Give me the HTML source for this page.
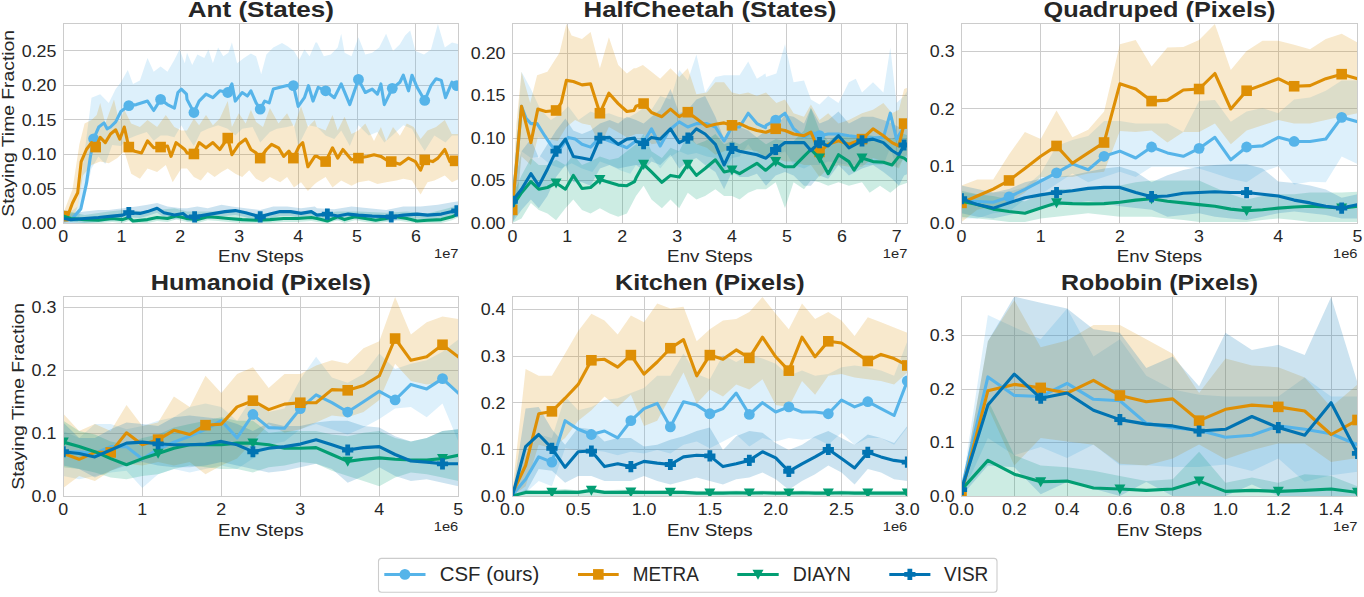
<!DOCTYPE html><html><head><meta charset="utf-8"><style>html,body{margin:0;padding:0;background:#fff;}svg{display:block;font-family:"Liberation Sans",sans-serif;}</style></head><body>
<svg width="1364" height="597" viewBox="0 0 1364 597">
<rect width="1364" height="597" fill="#fff"/>
<line x1="63.50" y1="23.5" x2="63.50" y2="223.5" stroke="#cccccc" stroke-width="1"/>
<line x1="121.50" y1="23.5" x2="121.50" y2="223.5" stroke="#cccccc" stroke-width="1"/>
<line x1="180.50" y1="23.5" x2="180.50" y2="223.5" stroke="#cccccc" stroke-width="1"/>
<line x1="239.50" y1="23.5" x2="239.50" y2="223.5" stroke="#cccccc" stroke-width="1"/>
<line x1="298.50" y1="23.5" x2="298.50" y2="223.5" stroke="#cccccc" stroke-width="1"/>
<line x1="357.50" y1="23.5" x2="357.50" y2="223.5" stroke="#cccccc" stroke-width="1"/>
<line x1="415.50" y1="23.5" x2="415.50" y2="223.5" stroke="#cccccc" stroke-width="1"/>
<line x1="63.5" y1="223.50" x2="458.5" y2="223.50" stroke="#cccccc" stroke-width="1"/>
<line x1="63.5" y1="188.50" x2="458.5" y2="188.50" stroke="#cccccc" stroke-width="1"/>
<line x1="63.5" y1="154.50" x2="458.5" y2="154.50" stroke="#cccccc" stroke-width="1"/>
<line x1="63.5" y1="119.50" x2="458.5" y2="119.50" stroke="#cccccc" stroke-width="1"/>
<line x1="63.5" y1="85.50" x2="458.5" y2="85.50" stroke="#cccccc" stroke-width="1"/>
<line x1="63.5" y1="50.50" x2="458.5" y2="50.50" stroke="#cccccc" stroke-width="1"/>
<clipPath id="clip0"><rect x="63.3" y="23.4" width="395.20" height="199.80"/></clipPath>
<g clip-path="url(#clip0)">
<path d="M63.2,216.8L77.7,206.5L91.5,97.7L100.2,94.2L108.8,102.9L115.7,89.1L120.9,82.2L127.8,70.1L133.0,83.9L139.9,80.4L147.5,58.0L153.7,71.8L160.6,66.6L167.5,71.8L174.4,59.7L179.6,49.4L184.8,63.2L187.0,52.8L192.2,64.9L197.4,54.5L204.3,58.0L208.4,49.4L212.9,63.2L218.1,47.6L223.3,56.3L228.4,52.8L231.9,42.4L237.1,63.2L244.0,58.0L250.9,53.5L256.1,56.3L261.2,74.2L266.4,54.5L273.3,47.6L282.0,43.1L287.1,45.9L294.0,51.1L299.2,59.7L304.4,49.4L309.6,56.3L315.5,42.4L317.0,42.4L323.9,56.3L330.8,54.5L337.7,47.6L341.2,33.8L344.6,52.8L351.5,56.3L358.4,37.3L365.3,54.5L372.2,52.8L379.2,47.6L386.1,33.8L393.0,51.1L399.9,44.2L405.1,35.5L410.2,30.4L415.4,51.1L424.0,54.5L431.0,49.4L437.9,24.1L444.8,47.6L452.0,42.4L459.3,44.2L459.3,135.6L452.0,135.6L445.5,142.5L434.4,135.6L424.7,151.1L417.1,139.0L412.0,128.7L403.3,125.2L392.3,135.6L384.3,142.5L377.4,132.1L368.8,135.6L358.4,125.2L349.8,146.0L341.2,130.4L334.3,139.0L325.6,135.6L317.0,127.0L308.5,125.2L298.2,146.0L294.0,125.2L287.1,127.0L276.8,128.7L269.9,132.1L260.2,142.5L252.6,127.0L242.2,128.7L235.3,135.6L227.7,128.7L218.1,125.2L207.7,128.7L200.8,132.1L193.9,146.0L187.0,135.6L181.3,125.2L174.4,137.3L167.5,135.6L160.6,135.6L153.7,140.8L146.8,132.1L136.4,135.6L127.8,139.0L120.9,146.0L112.2,145.1L105.3,164.1L98.4,156.4L91.5,168.5L84.6,199.6L77.7,222.0L63.2,223.0Z" fill="#56b4e9" fill-opacity="0.2"/>
<path d="M63.2,213.4L72.5,189.2L79.4,144.3L84.6,123.6L91.5,120.1L96.7,115.0L100.2,102.9L105.3,123.6L114.0,99.4L119.2,121.9L124.3,109.8L131.2,123.6L139.9,127.0L147.5,120.1L157.1,127.0L165.8,115.0L174.4,127.0L181.3,130.5L187.0,130.5L193.9,118.4L199.1,125.3L206.0,115.0L212.9,125.3L219.8,118.4L227.7,101.1L231.9,127.0L238.8,113.2L245.7,123.6L250.9,109.8L256.1,121.9L263.0,127.0L269.9,108.1L278.5,123.6L287.1,113.2L294.0,127.0L301.0,106.3L307.9,127.0L314.8,120.1L317.0,127.0L325.6,130.5L332.5,115.0L337.7,130.5L344.6,116.7L351.5,134.0L358.4,130.5L365.3,123.6L374.0,140.9L380.9,127.0L386.1,140.9L393.0,127.0L399.9,135.7L406.8,123.6L413.7,127.0L420.6,139.1L427.5,130.5L436.1,127.0L444.8,120.1L451.7,134.0L459.3,134.0L459.3,178.8L452.0,182.3L444.8,175.4L434.4,180.6L427.5,182.3L420.6,194.4L412.0,180.6L403.3,178.8L396.4,180.6L386.1,182.3L377.4,184.0L368.8,180.6L358.4,182.3L351.5,185.7L341.2,180.6L332.5,187.5L325.6,177.1L317.0,182.3L314.8,184.0L307.9,190.9L301.0,182.3L294.0,187.5L287.1,177.1L280.2,182.3L269.9,177.1L263.0,182.3L256.1,178.8L249.2,170.2L242.2,177.1L235.3,173.7L227.7,168.5L221.5,171.9L214.6,177.1L207.7,171.9L200.8,180.6L193.9,177.1L187.0,168.5L181.3,168.5L172.7,182.3L165.8,165.0L157.1,171.9L147.5,168.5L139.9,178.8L131.2,173.7L124.3,151.2L117.4,158.1L108.8,163.3L100.2,161.6L91.5,165.0L82.9,175.4L77.7,206.5L72.5,220.3L63.2,223.0Z" fill="#de8f05" fill-opacity="0.2"/>
<path d="M63.2,209.9L84.6,215.1L108.8,211.6L122.6,209.9L146.8,211.6L157.1,209.9L174.4,208.2L187.0,211.6L207.7,211.6L228.4,211.6L249.2,213.4L269.9,213.4L290.6,212.7L311.3,210.6L317.0,213.4L337.7,211.6L358.4,211.6L386.1,212.7L406.8,211.6L427.5,213.4L448.2,208.2L459.3,204.7L459.3,216.9L452.0,220.3L441.3,223.1L427.5,223.2L417.1,223.2L406.8,222.0L396.4,220.3L386.1,222.0L375.7,223.2L365.3,222.0L355.0,220.3L344.6,223.1L337.7,220.3L327.4,223.2L317.0,222.0L311.3,221.0L297.5,222.0L283.7,222.0L269.9,223.1L256.1,223.2L242.2,223.1L228.4,222.0L218.1,221.0L207.7,220.3L197.4,223.1L187.0,222.0L176.1,219.6L167.5,222.0L157.1,221.0L147.5,223.1L133.0,223.2L128.8,221.0L122.6,223.1L112.2,222.0L98.4,223.2L84.6,223.1L70.8,222.0L63.2,219.6Z" fill="#029e73" fill-opacity="0.2"/>
<path d="M63.2,209.9L70.8,213.4L84.6,211.6L98.4,209.9L108.8,209.9L122.6,208.2L136.4,206.5L147.5,204.7L157.1,203.0L167.5,206.5L181.3,208.2L187.0,208.2L197.4,206.5L207.7,208.2L221.5,204.7L231.9,206.5L245.7,208.2L260.2,209.9L273.3,206.5L287.1,206.5L301.0,208.2L314.8,206.5L317.0,208.2L334.3,209.2L351.5,206.5L368.8,208.2L386.1,209.9L403.3,206.5L420.6,206.5L437.9,204.7L452.0,202.3L459.3,201.3L459.3,216.1L456.8,215.5L452.0,216.1L441.3,218.6L427.5,219.6L417.1,218.6L403.3,219.6L391.2,221.3L372.2,220.6L358.4,219.6L348.1,218.6L337.7,220.6L327.4,218.6L317.0,219.6L311.3,216.1L301.0,217.9L290.6,216.1L280.2,216.1L269.9,218.6L260.2,221.3L245.7,217.2L235.3,215.1L225.0,216.1L214.6,217.9L204.3,219.6L194.6,221.3L187.0,221.3L183.0,217.9L174.4,219.6L164.0,217.2L157.1,212.7L147.5,216.1L139.9,217.9L128.8,217.2L122.6,219.6L112.2,220.6L98.4,222.0L84.6,223.0L70.8,223.2L63.2,223.0Z" fill="#0173b2" fill-opacity="0.2"/>
<path d="M63.2,220.3L72.5,218.2L80.8,208.9L86.4,183.7L90.1,158.5L93.6,138.8L98.8,127.0L104.0,122.9L107.1,128.8L110.5,127.0L115.7,121.9L120.9,111.5L128.8,105.6L136.4,104.6L147.5,101.1L153.7,110.5L160.6,99.4L167.5,104.6L174.4,108.1L177.9,92.5L181.3,89.1L186.5,94.2L187.0,99.4L193.9,112.5L199.1,101.1L206.0,94.2L212.9,97.7L219.8,90.8L227.7,92.5L231.9,83.9L235.3,101.1L242.2,92.5L247.4,96.0L250.9,90.8L256.1,102.9L260.2,109.1L264.7,101.1L269.2,102.9L273.3,89.1L280.2,87.3L287.1,85.6L293.4,85.6L298.2,106.3L304.4,97.7L308.5,85.6L313.0,101.1L318.2,87.3L325.6,90.8L334.3,97.7L341.2,83.9L349.8,104.6L358.4,79.4L365.3,92.5L372.2,89.1L377.4,94.2L380.9,83.9L384.3,104.6L392.3,88.4L399.9,82.2L403.3,75.2L408.5,90.8L412.0,75.2L417.1,87.3L424.7,100.5L431.0,85.6L436.1,78.7L441.3,80.4L445.5,97.7L452.0,82.2L456.8,85.6L459.3,87.3" fill="none" stroke="#56b4e9" stroke-width="3.1" stroke-linejoin="round" stroke-linecap="square"/>
<circle cx="93.60" cy="138.78" r="5.4" fill="#56b4e9"/>
<circle cx="128.82" cy="105.64" r="5.4" fill="#56b4e9"/>
<circle cx="160.59" cy="99.42" r="5.4" fill="#56b4e9"/>
<circle cx="193.91" cy="112.54" r="5.4" fill="#56b4e9"/>
<circle cx="227.75" cy="92.51" r="5.4" fill="#56b4e9"/>
<circle cx="260.20" cy="109.09" r="5.4" fill="#56b4e9"/>
<circle cx="293.35" cy="85.61" r="5.4" fill="#56b4e9"/>
<circle cx="325.63" cy="90.79" r="5.4" fill="#56b4e9"/>
<circle cx="358.44" cy="79.39" r="5.4" fill="#56b4e9"/>
<circle cx="392.28" cy="88.37" r="5.4" fill="#56b4e9"/>
<circle cx="424.73" cy="100.46" r="5.4" fill="#56b4e9"/>
<circle cx="456.85" cy="85.61" r="5.4" fill="#56b4e9"/>
<path d="M63.2,216.1L67.4,216.8L72.5,203.0L77.7,192.7L81.2,161.6L86.4,149.5L91.5,142.6L95.7,147.1L100.2,137.4L105.3,142.6L110.5,134.0L115.7,129.8L119.8,139.1L124.3,127.0L128.8,147.1L134.7,151.2L141.6,152.9L147.5,140.9L153.7,147.8L160.6,147.1L167.5,146.0L171.0,156.4L176.1,142.6L184.8,149.5L187.0,152.9L193.9,154.0L199.1,142.6L206.0,147.8L212.9,142.6L219.8,149.5L227.7,138.1L231.9,154.7L238.8,144.3L245.7,139.1L250.9,149.5L256.1,152.9L260.2,158.1L266.4,149.5L271.6,144.3L278.5,147.8L283.7,156.4L288.9,151.2L293.4,158.1L299.2,146.0L302.7,142.6L307.9,166.8L314.8,156.4L317.0,156.4L325.6,161.6L332.5,147.8L337.7,158.1L342.9,149.5L351.5,159.8L358.4,158.1L367.1,156.4L374.0,154.7L380.9,156.4L386.1,159.8L391.2,161.6L399.9,164.3L408.5,158.1L415.4,161.6L420.6,170.2L424.7,159.8L432.7,161.6L437.9,158.1L444.8,149.5L449.9,161.6L455.1,160.9L459.3,159.8" fill="none" stroke="#de8f05" stroke-width="3.1" stroke-linejoin="round" stroke-linecap="square"/>
<rect x="57.92" y="210.83" width="10.60" height="10.60" fill="#de8f05"/>
<rect x="90.37" y="141.77" width="10.60" height="10.60" fill="#de8f05"/>
<rect x="123.52" y="141.77" width="10.60" height="10.60" fill="#de8f05"/>
<rect x="155.29" y="141.77" width="10.60" height="10.60" fill="#de8f05"/>
<rect x="188.61" y="148.68" width="10.60" height="10.60" fill="#de8f05"/>
<rect x="222.45" y="132.79" width="10.60" height="10.60" fill="#de8f05"/>
<rect x="254.90" y="152.82" width="10.60" height="10.60" fill="#de8f05"/>
<rect x="288.05" y="152.82" width="10.60" height="10.60" fill="#de8f05"/>
<rect x="320.33" y="156.27" width="10.60" height="10.60" fill="#de8f05"/>
<rect x="353.14" y="152.82" width="10.60" height="10.60" fill="#de8f05"/>
<rect x="385.94" y="156.27" width="10.60" height="10.60" fill="#de8f05"/>
<rect x="419.43" y="154.55" width="10.60" height="10.60" fill="#de8f05"/>
<rect x="449.82" y="155.58" width="10.60" height="10.60" fill="#de8f05"/>
<path d="M63.2,216.1L70.8,218.5L84.6,219.6L98.4,220.3L112.2,218.5L122.6,219.6L128.8,217.5L133.0,221.0L147.5,219.6L157.1,217.5L167.5,218.5L176.1,216.1L187.0,218.5L197.4,219.6L207.7,216.8L218.1,217.5L228.4,218.5L242.2,219.6L256.1,220.3L269.9,219.6L283.7,218.5L297.5,218.5L311.3,217.5L317.0,218.5L327.4,221.0L337.7,216.8L344.6,219.6L355.0,216.8L365.3,218.5L375.7,220.3L386.1,218.5L396.4,216.8L406.8,218.5L417.1,221.0L427.5,220.3L441.3,219.6L452.0,216.8L459.3,213.4" fill="none" stroke="#029e73" stroke-width="3.1" stroke-linejoin="round" stroke-linecap="square"/>
<path d="M63.2,218.5L70.8,219.6L84.6,218.5L98.4,217.5L112.2,216.1L122.6,215.1L128.8,212.7L139.9,213.4L147.5,211.6L157.1,208.2L164.0,212.7L174.4,215.1L183.0,213.4L187.0,216.8L194.6,216.8L204.3,215.1L214.6,213.4L225.0,211.6L235.3,210.6L245.7,212.7L260.2,216.8L269.9,214.1L280.2,211.6L290.6,211.6L301.0,213.4L311.3,211.6L317.0,215.1L327.4,214.1L337.7,216.1L348.1,214.1L358.4,215.1L372.2,216.1L391.2,216.8L403.3,215.1L417.1,214.1L427.5,215.1L441.3,214.1L452.0,211.6L456.8,211.0L459.3,211.6" fill="none" stroke="#0173b2" stroke-width="3.1" stroke-linejoin="round" stroke-linecap="square"/>
<path d="M126.42,207.08H131.22V210.28H134.42V215.08H131.22V218.28H126.42V215.08H123.22V210.28H126.42Z" fill="#0173b2"/>
<path d="M192.20,211.22H197.00V214.42H200.20V219.22H197.00V222.42H192.20V219.22H189.00V214.42H192.20Z" fill="#0173b2"/>
<path d="M257.80,211.22H262.60V214.42H265.80V219.22H262.60V222.42H257.80V219.22H254.60V214.42H257.80Z" fill="#0173b2"/>
<path d="M324.96,208.46H329.76V211.66H332.96V216.46H329.76V219.66H324.96V216.46H321.76V211.66H324.96Z" fill="#0173b2"/>
<path d="M388.84,211.22H393.64V214.42H396.84V219.22H393.64V222.42H388.84V219.22H385.64V214.42H388.84Z" fill="#0173b2"/>
<path d="M454.45,205.35H459.25V208.55H462.45V213.35H459.25V216.55H454.45V213.35H451.25V208.55H454.45Z" fill="#0173b2"/>
</g>
<rect x="63.5" y="23.5" width="395.00" height="200.00" fill="none" stroke="#cccccc" stroke-width="1"/>
<text fill="#262626" x="63.30" y="242.00" font-size="15.6" text-anchor="middle" textLength="9.93" lengthAdjust="spacingAndGlyphs" style="" >0</text>
<text fill="#262626" x="121.45" y="242.00" font-size="15.6" text-anchor="middle" textLength="9.93" lengthAdjust="spacingAndGlyphs" style="" >1</text>
<text fill="#262626" x="180.35" y="242.00" font-size="15.6" text-anchor="middle" textLength="9.93" lengthAdjust="spacingAndGlyphs" style="" >2</text>
<text fill="#262626" x="239.25" y="242.00" font-size="15.6" text-anchor="middle" textLength="9.93" lengthAdjust="spacingAndGlyphs" style="" >3</text>
<text fill="#262626" x="298.15" y="242.00" font-size="15.6" text-anchor="middle" textLength="9.93" lengthAdjust="spacingAndGlyphs" style="" >4</text>
<text fill="#262626" x="357.05" y="242.00" font-size="15.6" text-anchor="middle" textLength="9.93" lengthAdjust="spacingAndGlyphs" style="" >5</text>
<text fill="#262626" x="415.95" y="242.00" font-size="15.6" text-anchor="middle" textLength="9.93" lengthAdjust="spacingAndGlyphs" style="" >6</text>
<text fill="#262626" x="56.40" y="229.00" font-size="15.6" text-anchor="end" textLength="34.73" lengthAdjust="spacingAndGlyphs" style="" >0.00</text>
<text fill="#262626" x="56.40" y="194.55" font-size="15.6" text-anchor="end" textLength="34.73" lengthAdjust="spacingAndGlyphs" style="" >0.05</text>
<text fill="#262626" x="56.40" y="160.10" font-size="15.6" text-anchor="end" textLength="34.73" lengthAdjust="spacingAndGlyphs" style="" >0.10</text>
<text fill="#262626" x="56.40" y="125.66" font-size="15.6" text-anchor="end" textLength="34.73" lengthAdjust="spacingAndGlyphs" style="" >0.15</text>
<text fill="#262626" x="56.40" y="91.21" font-size="15.6" text-anchor="end" textLength="34.73" lengthAdjust="spacingAndGlyphs" style="" >0.20</text>
<text fill="#262626" x="56.40" y="56.76" font-size="15.6" text-anchor="end" textLength="34.73" lengthAdjust="spacingAndGlyphs" style="" >0.25</text>
<text fill="#262626" x="260.90" y="17.00" font-size="22.0" text-anchor="middle" textLength="146.19" lengthAdjust="spacingAndGlyphs" style="font-weight:bold;" >Ant (States)</text>
<text fill="#262626" x="260.90" y="261.90" font-size="17.2" text-anchor="middle" textLength="85.54" lengthAdjust="spacingAndGlyphs" style="" >Env Steps</text>
<text fill="#262626" x="458.50" y="258.20" font-size="13.0" text-anchor="end" textLength="24.54" lengthAdjust="spacingAndGlyphs" style="" >1e7</text>
<text fill="#262626" x="0.00" y="0.00" font-size="17.2" text-anchor="middle" textLength="186.66" lengthAdjust="spacingAndGlyphs" style="" transform="translate(13.8,123.30) rotate(-90)">Staying Time Fraction</text>
<line x1="512.50" y1="23.5" x2="512.50" y2="223.5" stroke="#cccccc" stroke-width="1"/>
<line x1="567.50" y1="23.5" x2="567.50" y2="223.5" stroke="#cccccc" stroke-width="1"/>
<line x1="622.50" y1="23.5" x2="622.50" y2="223.5" stroke="#cccccc" stroke-width="1"/>
<line x1="677.50" y1="23.5" x2="677.50" y2="223.5" stroke="#cccccc" stroke-width="1"/>
<line x1="732.50" y1="23.5" x2="732.50" y2="223.5" stroke="#cccccc" stroke-width="1"/>
<line x1="786.50" y1="23.5" x2="786.50" y2="223.5" stroke="#cccccc" stroke-width="1"/>
<line x1="841.50" y1="23.5" x2="841.50" y2="223.5" stroke="#cccccc" stroke-width="1"/>
<line x1="896.50" y1="23.5" x2="896.50" y2="223.5" stroke="#cccccc" stroke-width="1"/>
<line x1="512.5" y1="223.50" x2="907.5" y2="223.50" stroke="#cccccc" stroke-width="1"/>
<line x1="512.5" y1="180.50" x2="907.5" y2="180.50" stroke="#cccccc" stroke-width="1"/>
<line x1="512.5" y1="138.50" x2="907.5" y2="138.50" stroke="#cccccc" stroke-width="1"/>
<line x1="512.5" y1="95.50" x2="907.5" y2="95.50" stroke="#cccccc" stroke-width="1"/>
<line x1="512.5" y1="53.50" x2="907.5" y2="53.50" stroke="#cccccc" stroke-width="1"/>
<clipPath id="clip1"><rect x="512.4" y="23.4" width="395.00" height="199.80"/></clipPath>
<g clip-path="url(#clip1)">
<path d="M512.2,199.6L521.5,71.8L530.9,89.1L540.5,109.8L550.9,120.1L561.2,113.2L568.2,106.3L578.5,120.1L590.6,111.5L599.9,115.0L608.9,113.2L618.2,116.7L626.9,118.4L636.0,113.2L643.6,108.1L651.5,109.8L660.2,96.0L670.5,99.4L679.2,70.1L687.8,80.4L696.4,54.5L705.1,92.5L715.4,77.0L724.1,75.2L732.0,75.2L739.6,75.2L748.2,61.4L756.9,78.7L765.5,73.5L766.0,77.0L776.4,73.5L785.0,44.2L793.6,82.2L804.0,80.4L810.9,99.4L819.5,104.6L828.2,96.0L838.5,102.9L848.9,82.2L855.8,78.7L862.0,92.5L873.0,82.2L883.4,92.5L890.3,47.6L896.5,102.9L904.1,96.0L908.3,89.1L908.3,156.4L904.1,158.1L896.5,168.5L890.3,147.8L883.4,165.0L873.0,165.0L862.0,165.0L848.9,165.0L838.5,163.3L828.2,161.6L819.5,165.0L810.9,165.0L804.0,168.5L793.6,165.0L785.0,151.2L775.7,156.4L766.0,158.1L756.9,156.4L748.2,144.3L739.6,156.4L732.0,158.1L724.1,171.9L715.4,158.1L706.8,156.4L696.4,152.9L687.8,154.7L679.2,151.2L668.8,158.1L660.2,168.5L651.5,156.4L643.6,165.0L636.0,165.0L630.3,173.7L620.0,170.2L609.6,165.0L599.9,161.6L592.3,171.9L582.0,168.5L571.6,163.3L561.2,168.5L550.9,165.0L540.5,156.4L530.9,158.1L521.5,151.2L516.4,213.4L512.2,223.0Z" fill="#56b4e9" fill-opacity="0.2"/>
<path d="M512.2,199.6L516.4,123.6L521.5,71.8L530.2,102.9L537.1,75.2L547.4,71.8L559.5,52.8L566.4,24.1L571.6,35.5L582.0,39.0L590.6,32.1L599.9,68.3L608.9,37.3L618.2,64.9L626.9,73.5L633.8,68.3L636.0,68.3L642.9,64.9L651.5,71.8L660.2,78.7L670.5,68.3L679.2,77.0L687.8,68.3L696.4,94.2L706.8,92.5L715.4,82.2L724.1,82.2L732.0,92.5L739.6,94.2L748.2,92.5L756.9,96.0L766.0,92.5L776.4,102.9L785.0,99.4L793.6,113.2L804.0,116.7L810.9,104.6L819.5,120.1L828.2,113.2L838.5,123.6L848.9,120.1L862.0,113.2L873.0,109.8L883.4,102.9L892.0,113.2L898.9,109.8L904.1,89.1L908.3,87.3L908.3,154.7L904.1,156.4L898.9,168.5L892.0,165.0L883.4,161.6L873.0,158.1L862.0,166.8L848.9,166.8L838.5,165.0L828.2,168.5L819.5,177.1L810.9,165.0L804.0,165.0L793.6,161.6L785.0,161.6L775.7,158.1L766.0,158.1L756.9,151.2L748.2,149.5L739.6,151.2L732.0,147.8L724.1,151.2L715.4,154.7L706.8,147.8L696.4,144.3L687.8,137.4L679.2,144.3L670.5,130.5L661.9,142.6L651.5,144.3L643.6,134.0L636.0,134.0L626.9,137.4L618.2,132.2L608.9,127.0L599.9,146.0L590.6,125.3L582.0,123.6L575.1,120.1L566.4,127.0L557.8,140.9L547.4,139.1L537.8,137.4L530.9,165.0L521.5,156.4L516.4,209.9L512.2,223.0Z" fill="#de8f05" fill-opacity="0.2"/>
<path d="M512.2,196.1L521.5,175.4L530.9,158.1L538.8,165.0L547.4,165.0L556.1,159.8L565.4,165.0L573.3,154.7L582.0,165.0L590.6,161.6L599.9,156.4L609.6,159.8L618.2,158.1L626.9,151.2L636.0,144.3L643.6,134.0L651.5,151.2L661.9,158.1L670.5,147.8L679.2,151.2L687.8,134.0L696.4,144.3L705.1,140.9L715.4,134.0L724.1,144.3L732.0,140.9L739.6,144.3L748.2,139.1L756.9,137.4L766.0,144.3L775.7,139.1L785.0,140.9L793.6,140.9L804.0,130.5L810.9,108.1L819.5,130.5L828.2,140.9L838.5,134.0L848.9,137.4L862.0,134.0L873.0,135.7L883.4,137.4L892.0,139.1L898.9,134.0L904.1,134.0L908.3,135.7L908.3,182.3L898.9,185.7L890.3,192.7L880.0,185.7L869.6,192.7L862.0,182.3L848.9,185.7L838.5,182.3L828.2,185.7L819.5,182.3L810.9,180.6L804.0,189.2L793.6,182.3L785.0,208.2L775.7,182.3L766.0,189.2L756.9,189.2L748.2,192.7L739.6,199.6L732.0,196.1L724.1,196.1L715.4,189.2L705.1,196.1L696.4,199.6L687.8,192.7L679.2,208.2L670.5,199.6L661.9,208.2L651.5,199.6L643.6,185.7L636.0,196.1L626.9,213.4L618.2,216.8L609.6,213.4L599.9,208.2L590.6,213.4L582.0,209.9L573.3,199.6L565.4,208.2L556.1,220.3L547.4,213.4L538.8,209.9L530.9,203.0L521.5,218.5L512.2,223.0Z" fill="#029e73" fill-opacity="0.2"/>
<path d="M512.2,192.7L521.5,151.2L530.9,139.1L538.8,158.1L547.4,144.3L556.1,130.5L565.4,118.4L573.3,130.5L582.0,134.0L590.6,130.5L599.9,123.6L609.6,120.1L618.2,123.6L626.9,116.7L636.0,120.1L643.6,123.6L651.5,116.7L660.2,109.8L670.5,89.1L679.2,113.2L687.8,109.8L696.4,99.4L705.1,96.0L715.4,116.7L724.1,139.1L732.0,123.6L739.6,127.0L748.2,130.5L756.9,137.4L766.0,130.5L775.7,127.0L785.0,115.0L793.6,116.7L804.0,123.6L810.9,108.1L819.5,123.6L828.2,120.1L838.5,111.5L848.9,123.6L862.0,116.7L873.0,116.7L883.4,120.1L892.0,123.6L898.9,127.0L904.1,120.1L908.3,118.4L908.3,173.7L904.1,175.4L898.9,185.7L892.0,178.8L883.4,171.9L873.0,165.0L862.0,168.5L848.9,175.4L838.5,165.0L828.2,178.8L819.5,175.4L810.9,185.7L804.0,185.7L793.6,175.4L785.0,171.9L775.7,175.4L766.0,185.7L756.9,173.7L748.2,177.1L739.6,177.1L732.0,171.9L724.1,189.2L715.4,171.9L705.1,165.0L696.4,158.1L687.8,161.6L679.2,168.5L670.5,154.7L660.2,165.0L651.5,161.6L643.6,170.2L636.0,165.0L626.9,166.8L618.2,168.5L609.6,165.0L599.9,168.5L590.6,185.7L582.0,182.3L573.3,182.3L565.4,165.0L556.1,177.1L547.4,196.1L538.8,208.2L530.9,199.6L521.5,209.9L512.2,223.0Z" fill="#0173b2" fill-opacity="0.2"/>
<path d="M512.2,206.5L516.4,165.0L521.5,106.3L526.0,118.4L530.9,123.6L537.1,123.6L544.7,135.7L550.9,145.0L556.1,150.5L561.2,147.1L568.2,137.4L575.1,139.1L582.0,144.3L590.6,147.1L599.9,137.4L608.9,140.9L618.2,144.3L626.9,147.8L633.8,142.6L636.0,140.9L643.6,142.6L651.5,128.8L660.2,146.0L668.8,130.5L679.2,121.9L687.8,127.0L696.4,123.6L706.8,123.6L715.4,127.0L724.1,140.9L732.0,127.0L739.6,127.0L748.2,113.2L756.9,123.6L765.5,127.7L766.0,125.3L775.7,120.1L785.0,113.2L793.6,128.8L804.0,137.4L810.9,132.2L819.5,135.7L828.2,134.0L838.5,134.0L848.9,135.7L862.0,137.4L873.0,138.1L883.4,137.4L890.3,113.2L896.5,139.1L904.1,127.0L908.3,125.3" fill="none" stroke="#56b4e9" stroke-width="3.1" stroke-linejoin="round" stroke-linecap="square"/>
<circle cx="775.67" cy="120.14" r="5.4" fill="#56b4e9"/>
<circle cx="819.52" cy="135.68" r="5.4" fill="#56b4e9"/>
<path d="M512.2,209.9L516.4,165.0L521.5,106.3L526.0,123.6L530.9,142.6L537.8,109.1L545.7,111.5L556.1,110.5L561.2,102.9L566.4,80.4L573.3,81.5L582.0,84.9L590.6,83.9L599.9,113.2L608.9,93.2L618.2,103.6L626.9,111.5L633.8,110.5L636.0,106.3L643.6,103.6L651.5,112.5L661.9,116.7L670.5,109.1L679.2,116.7L687.8,112.2L696.4,118.4L706.8,126.4L715.4,124.3L724.1,122.9L732.0,125.3L739.6,123.6L748.2,127.7L756.9,130.5L765.5,132.2L766.0,132.2L775.7,128.8L785.0,130.5L793.6,134.0L804.0,135.7L810.9,132.2L819.5,151.9L828.2,144.3L838.5,140.9L848.9,144.3L862.0,139.1L873.0,128.8L883.4,135.7L892.0,142.6L898.9,146.0L904.1,123.6L908.3,125.3" fill="none" stroke="#de8f05" stroke-width="3.1" stroke-linejoin="round" stroke-linecap="square"/>
<rect x="506.92" y="204.62" width="10.60" height="10.60" fill="#de8f05"/>
<rect x="550.77" y="105.17" width="10.60" height="10.60" fill="#de8f05"/>
<rect x="594.62" y="107.93" width="10.60" height="10.60" fill="#de8f05"/>
<rect x="638.30" y="98.26" width="10.60" height="10.60" fill="#de8f05"/>
<rect x="682.50" y="106.90" width="10.60" height="10.60" fill="#de8f05"/>
<rect x="726.69" y="120.02" width="10.60" height="10.60" fill="#de8f05"/>
<rect x="770.37" y="123.47" width="10.60" height="10.60" fill="#de8f05"/>
<rect x="814.22" y="146.61" width="10.60" height="10.60" fill="#de8f05"/>
<rect x="856.69" y="133.83" width="10.60" height="10.60" fill="#de8f05"/>
<rect x="898.82" y="118.29" width="10.60" height="10.60" fill="#de8f05"/>
<path d="M512.2,206.5L521.5,192.7L530.9,181.6L538.8,189.2L547.4,187.5L556.1,183.0L565.4,189.2L573.3,175.4L582.0,188.5L590.6,187.5L599.9,179.5L608.9,182.3L618.2,185.1L626.9,185.7L634.5,181.6L636.0,178.1L643.6,164.3L651.5,171.9L661.9,182.3L670.5,175.4L679.2,177.1L687.8,164.3L696.4,175.4L705.1,168.5L715.4,159.8L724.1,171.9L732.0,170.2L739.6,173.7L748.2,168.5L756.9,163.3L765.5,170.2L766.0,170.2L775.7,161.6L785.0,166.8L793.6,166.8L804.0,156.4L810.9,149.5L819.5,158.1L828.2,173.7L838.5,154.7L848.9,161.6L854.1,170.2L862.0,158.1L873.0,161.6L883.4,162.3L892.0,165.0L898.9,156.4L904.1,158.1L908.3,161.6" fill="none" stroke="#029e73" stroke-width="3.1" stroke-linejoin="round" stroke-linecap="square"/>
<path d="M550.57,178.38L561.57,178.38L556.07,188.38Z" fill="#029e73"/>
<path d="M594.42,174.93L605.42,174.93L599.92,184.93Z" fill="#029e73"/>
<path d="M638.10,159.74L649.10,159.74L643.60,169.74Z" fill="#029e73"/>
<path d="M682.30,159.74L693.30,159.74L687.80,169.74Z" fill="#029e73"/>
<path d="M726.49,165.61L737.49,165.61L731.99,175.61Z" fill="#029e73"/>
<path d="M770.17,156.97L781.17,156.97L775.67,166.97Z" fill="#029e73"/>
<path d="M814.02,153.52L825.02,153.52L819.52,163.52Z" fill="#029e73"/>
<path d="M856.49,153.52L867.49,153.52L861.99,163.52Z" fill="#029e73"/>
<path d="M512.2,201.3L521.5,189.2L530.9,173.7L538.8,185.7L547.4,169.2L556.1,151.2L565.4,139.1L573.3,156.4L582.0,158.1L590.6,159.8L599.9,138.1L609.6,137.4L618.2,144.3L626.9,139.1L634.5,138.1L636.0,141.5L643.6,143.6L651.5,137.4L660.2,139.1L670.5,128.8L679.2,142.6L687.8,138.1L696.4,128.8L705.1,134.0L715.4,144.3L724.1,165.0L732.0,148.5L739.6,151.2L748.2,152.9L756.9,154.7L765.5,158.1L766.0,158.1L775.7,149.5L785.0,142.6L793.6,142.6L804.0,142.6L810.9,150.5L819.5,142.6L828.2,146.0L838.5,135.7L848.9,147.8L862.0,140.9L873.0,139.1L883.4,142.6L892.0,150.5L898.9,154.7L904.1,145.0L908.3,144.3" fill="none" stroke="#0173b2" stroke-width="3.1" stroke-linejoin="round" stroke-linecap="square"/>
<path d="M509.82,195.68H514.62V198.88H517.82V203.68H514.62V206.88H509.82V203.68H506.62V198.88H509.82Z" fill="#0173b2"/>
<path d="M553.67,145.62H558.47V148.82H561.67V153.62H558.47V156.82H553.67V153.62H550.47V148.82H553.67Z" fill="#0173b2"/>
<path d="M597.52,132.49H602.32V135.69H605.52V140.49H602.32V143.69H597.52V140.49H594.32V135.69H597.52Z" fill="#0173b2"/>
<path d="M641.20,138.02H646.00V141.22H649.20V146.02H646.00V149.22H641.20V146.02H638.00V141.22H641.20Z" fill="#0173b2"/>
<path d="M685.40,132.49H690.20V135.69H693.40V140.49H690.20V143.69H685.40V140.49H682.20V135.69H685.40Z" fill="#0173b2"/>
<path d="M729.59,142.85H734.39V146.05H737.59V150.85H734.39V154.05H729.59V150.85H726.39V146.05H729.59Z" fill="#0173b2"/>
<path d="M773.27,143.89H778.07V147.09H781.27V151.89H778.07V155.09H773.27V151.89H770.07V147.09H773.27Z" fill="#0173b2"/>
<path d="M817.12,136.98H821.92V140.18H825.12V144.98H821.92V148.18H817.12V144.98H813.92V140.18H817.12Z" fill="#0173b2"/>
<path d="M859.59,135.26H864.39V138.46H867.59V143.26H864.39V146.46H859.59V143.26H856.39V138.46H859.59Z" fill="#0173b2"/>
<path d="M901.72,139.40H906.52V142.60H909.72V147.40H906.52V150.60H901.72V147.40H898.52V142.60H901.72Z" fill="#0173b2"/>
</g>
<rect x="512.5" y="23.5" width="395.00" height="200.00" fill="none" stroke="#cccccc" stroke-width="1"/>
<text fill="#262626" x="512.40" y="242.00" font-size="15.6" text-anchor="middle" textLength="9.93" lengthAdjust="spacingAndGlyphs" style="" >0</text>
<text fill="#262626" x="567.31" y="242.00" font-size="15.6" text-anchor="middle" textLength="9.93" lengthAdjust="spacingAndGlyphs" style="" >1</text>
<text fill="#262626" x="622.23" y="242.00" font-size="15.6" text-anchor="middle" textLength="9.93" lengthAdjust="spacingAndGlyphs" style="" >2</text>
<text fill="#262626" x="677.14" y="242.00" font-size="15.6" text-anchor="middle" textLength="9.93" lengthAdjust="spacingAndGlyphs" style="" >3</text>
<text fill="#262626" x="732.06" y="242.00" font-size="15.6" text-anchor="middle" textLength="9.93" lengthAdjust="spacingAndGlyphs" style="" >4</text>
<text fill="#262626" x="786.97" y="242.00" font-size="15.6" text-anchor="middle" textLength="9.93" lengthAdjust="spacingAndGlyphs" style="" >5</text>
<text fill="#262626" x="841.89" y="242.00" font-size="15.6" text-anchor="middle" textLength="9.93" lengthAdjust="spacingAndGlyphs" style="" >6</text>
<text fill="#262626" x="896.80" y="242.00" font-size="15.6" text-anchor="middle" textLength="9.93" lengthAdjust="spacingAndGlyphs" style="" >7</text>
<text fill="#262626" x="505.50" y="229.00" font-size="15.6" text-anchor="end" textLength="34.73" lengthAdjust="spacingAndGlyphs" style="" >0.00</text>
<text fill="#262626" x="505.50" y="186.49" font-size="15.6" text-anchor="end" textLength="34.73" lengthAdjust="spacingAndGlyphs" style="" >0.05</text>
<text fill="#262626" x="505.50" y="143.98" font-size="15.6" text-anchor="end" textLength="34.73" lengthAdjust="spacingAndGlyphs" style="" >0.10</text>
<text fill="#262626" x="505.50" y="101.47" font-size="15.6" text-anchor="end" textLength="34.73" lengthAdjust="spacingAndGlyphs" style="" >0.15</text>
<text fill="#262626" x="505.50" y="58.96" font-size="15.6" text-anchor="end" textLength="34.73" lengthAdjust="spacingAndGlyphs" style="" >0.20</text>
<text fill="#262626" x="709.90" y="17.00" font-size="22.0" text-anchor="middle" textLength="252.74" lengthAdjust="spacingAndGlyphs" style="font-weight:bold;" >HalfCheetah (States)</text>
<text fill="#262626" x="709.90" y="261.90" font-size="17.2" text-anchor="middle" textLength="85.54" lengthAdjust="spacingAndGlyphs" style="" >Env Steps</text>
<text fill="#262626" x="907.40" y="258.20" font-size="13.0" text-anchor="end" textLength="24.54" lengthAdjust="spacingAndGlyphs" style="" >1e7</text>
<line x1="961.50" y1="23.5" x2="961.50" y2="223.5" stroke="#cccccc" stroke-width="1"/>
<line x1="1040.50" y1="23.5" x2="1040.50" y2="223.5" stroke="#cccccc" stroke-width="1"/>
<line x1="1119.50" y1="23.5" x2="1119.50" y2="223.5" stroke="#cccccc" stroke-width="1"/>
<line x1="1199.50" y1="23.5" x2="1199.50" y2="223.5" stroke="#cccccc" stroke-width="1"/>
<line x1="1278.50" y1="23.5" x2="1278.50" y2="223.5" stroke="#cccccc" stroke-width="1"/>
<line x1="961.5" y1="223.50" x2="1357.5" y2="223.50" stroke="#cccccc" stroke-width="1"/>
<line x1="961.5" y1="165.50" x2="1357.5" y2="165.50" stroke="#cccccc" stroke-width="1"/>
<line x1="961.5" y1="108.50" x2="1357.5" y2="108.50" stroke="#cccccc" stroke-width="1"/>
<line x1="961.5" y1="51.50" x2="1357.5" y2="51.50" stroke="#cccccc" stroke-width="1"/>
<clipPath id="clip2"><rect x="961.5" y="23.4" width="396.00" height="199.80"/></clipPath>
<g clip-path="url(#clip2)">
<path d="M961.5,192.5L977.3,194.3L993.2,192.5L1009.0,191.8L1024.9,187.0L1040.7,173.6L1056.5,145.9L1072.4,140.1L1088.2,135.9L1104.1,121.1L1119.9,121.1L1135.7,123.5L1151.6,123.5L1167.4,123.5L1183.3,132.1L1199.1,101.1L1214.9,100.1L1230.8,121.8L1246.6,111.4L1262.5,108.0L1278.3,113.2L1294.1,99.4L1310.0,97.6L1325.8,90.7L1341.7,80.4L1357.5,80.4L1357.5,163.9L1341.7,156.6L1325.8,182.2L1310.0,181.8L1294.1,184.6L1278.3,166.3L1262.5,171.8L1246.6,182.2L1230.8,178.7L1214.9,173.6L1199.1,168.4L1183.3,166.7L1167.4,166.7L1151.6,166.7L1135.7,177.0L1119.9,171.8L1104.1,177.0L1088.2,182.2L1072.4,173.6L1056.5,183.9L1040.7,194.3L1024.9,199.4L1009.0,211.5L993.2,213.2L977.3,218.4L961.5,218.4Z" fill="#56b4e9" fill-opacity="0.2"/>
<path d="M961.5,185.6L977.3,179.4L993.2,179.4L1009.0,154.6L1024.9,132.1L1040.7,139.0L1056.5,110.4L1072.4,137.3L1088.2,129.7L1104.1,111.4L1119.9,44.2L1135.7,40.0L1151.6,66.6L1167.4,47.6L1183.3,46.9L1199.1,40.0L1214.9,24.1L1230.8,70.0L1246.6,51.1L1262.5,40.7L1278.3,40.7L1294.1,44.8L1310.0,49.3L1325.8,39.0L1341.7,33.8L1357.5,42.4L1357.5,113.2L1341.7,116.6L1325.8,120.1L1310.0,123.5L1294.1,123.5L1278.3,120.1L1262.5,125.2L1246.6,130.4L1230.8,144.2L1214.9,123.5L1199.1,132.1L1183.3,132.1L1167.4,142.5L1151.6,130.4L1135.7,132.1L1119.9,131.1L1104.1,171.8L1088.2,173.6L1072.4,177.0L1056.5,177.0L1040.7,177.0L1024.9,192.5L1009.0,202.9L993.2,206.3L977.3,209.8L961.5,221.9Z" fill="#de8f05" fill-opacity="0.2"/>
<path d="M961.5,190.8L977.3,194.3L993.2,196.0L1009.0,199.4L1024.9,201.2L1040.7,194.3L1056.5,189.1L1072.4,189.1L1088.2,188.4L1104.1,187.4L1119.9,185.6L1135.7,182.2L1151.6,180.5L1167.4,180.5L1183.3,180.5L1199.1,180.5L1214.9,187.4L1230.8,194.3L1246.6,199.4L1262.5,196.0L1278.3,194.3L1294.1,194.3L1310.0,192.5L1325.8,192.5L1341.7,192.5L1357.5,191.8L1357.5,221.9L1341.7,221.9L1325.8,221.9L1310.0,221.9L1294.1,220.1L1278.3,218.4L1262.5,220.1L1246.6,221.9L1230.8,221.9L1214.9,221.9L1199.1,221.9L1183.3,220.1L1167.4,218.4L1151.6,216.7L1135.7,216.7L1119.9,216.7L1104.1,215.0L1088.2,213.2L1072.4,215.0L1056.5,216.7L1040.7,218.4L1024.9,221.9L1009.0,221.9L993.2,220.1L977.3,218.4L961.5,216.7Z" fill="#029e73" fill-opacity="0.2"/>
<path d="M961.5,185.6L977.3,189.1L993.2,192.5L1009.0,189.1L1024.9,182.2L1040.7,178.7L1056.5,177.0L1072.4,175.3L1088.2,171.8L1104.1,168.4L1119.9,166.7L1135.7,171.8L1151.6,182.2L1167.4,175.3L1183.3,170.1L1199.1,166.7L1214.9,164.9L1230.8,164.2L1246.6,164.2L1262.5,168.4L1278.3,181.5L1294.1,182.9L1310.0,185.6L1325.8,189.4L1341.7,197.7L1357.5,194.3L1357.5,218.4L1341.7,218.4L1325.8,215.0L1310.0,213.2L1294.1,211.5L1278.3,213.2L1262.5,216.7L1246.6,220.1L1230.8,218.4L1214.9,216.7L1199.1,213.2L1183.3,215.0L1167.4,216.7L1151.6,209.8L1135.7,208.1L1119.9,206.3L1104.1,202.9L1088.2,201.2L1072.4,202.9L1056.5,206.3L1040.7,208.1L1024.9,211.5L1009.0,215.0L993.2,218.4L977.3,216.7L961.5,213.2Z" fill="#0173b2" fill-opacity="0.2"/>
<path d="M961.5,200.8L977.3,201.5L993.2,202.2L1009.0,197.0L1024.9,189.4L1040.7,181.1L1056.5,172.9L1072.4,163.9L1088.2,169.8L1104.1,156.3L1119.9,151.1L1135.7,158.0L1151.6,147.0L1167.4,152.9L1183.3,156.3L1199.1,148.4L1214.9,137.3L1230.8,159.8L1246.6,147.0L1262.5,145.9L1278.3,137.3L1294.1,141.5L1310.0,141.5L1325.8,139.0L1341.7,117.3L1357.5,121.8" fill="none" stroke="#56b4e9" stroke-width="3.1" stroke-linejoin="round" stroke-linecap="square"/>
<circle cx="1009.02" cy="197.02" r="5.4" fill="#56b4e9"/>
<circle cx="1056.54" cy="172.86" r="5.4" fill="#56b4e9"/>
<circle cx="1104.06" cy="156.30" r="5.4" fill="#56b4e9"/>
<circle cx="1151.58" cy="146.98" r="5.4" fill="#56b4e9"/>
<circle cx="1199.10" cy="148.36" r="5.4" fill="#56b4e9"/>
<circle cx="1246.62" cy="146.98" r="5.4" fill="#56b4e9"/>
<circle cx="1294.14" cy="141.46" r="5.4" fill="#56b4e9"/>
<circle cx="1341.66" cy="117.31" r="5.4" fill="#56b4e9"/>
<path d="M961.5,202.9L977.3,196.0L993.2,189.1L1009.0,180.5L1024.9,168.4L1040.7,156.3L1056.5,145.9L1072.4,163.2L1088.2,152.9L1104.1,142.5L1119.9,83.8L1135.7,89.0L1151.6,101.1L1167.4,100.1L1183.3,90.0L1199.1,89.0L1214.9,73.5L1230.8,109.0L1246.6,90.7L1262.5,84.9L1278.3,78.7L1294.1,86.3L1310.0,85.6L1325.8,78.7L1341.7,74.2L1357.5,78.7" fill="none" stroke="#de8f05" stroke-width="3.1" stroke-linejoin="round" stroke-linecap="square"/>
<rect x="956.20" y="197.58" width="10.60" height="10.60" fill="#de8f05"/>
<rect x="1003.72" y="175.16" width="10.60" height="10.60" fill="#de8f05"/>
<rect x="1051.24" y="140.65" width="10.60" height="10.60" fill="#de8f05"/>
<rect x="1098.76" y="137.20" width="10.60" height="10.60" fill="#de8f05"/>
<rect x="1146.28" y="95.79" width="10.60" height="10.60" fill="#de8f05"/>
<rect x="1193.80" y="83.71" width="10.60" height="10.60" fill="#de8f05"/>
<rect x="1241.32" y="85.44" width="10.60" height="10.60" fill="#de8f05"/>
<rect x="1288.84" y="80.95" width="10.60" height="10.60" fill="#de8f05"/>
<rect x="1336.36" y="68.88" width="10.60" height="10.60" fill="#de8f05"/>
<path d="M961.5,201.2L977.3,204.6L993.2,209.1L1009.0,211.5L1024.9,213.2L1040.7,208.1L1056.5,202.9L1072.4,203.6L1088.2,203.9L1104.1,203.6L1119.9,202.2L1135.7,200.1L1151.6,198.7L1167.4,201.2L1183.3,202.9L1199.1,204.6L1214.9,206.3L1230.8,209.1L1246.6,210.8L1262.5,209.8L1278.3,208.1L1294.1,207.0L1310.0,206.3L1325.8,207.0L1341.7,208.1L1357.5,206.3" fill="none" stroke="#029e73" stroke-width="3.1" stroke-linejoin="round" stroke-linecap="square"/>
<path d="M1051.04,198.28L1062.04,198.28L1056.54,208.28Z" fill="#029e73"/>
<path d="M1146.08,194.14L1157.08,194.14L1151.58,204.14Z" fill="#029e73"/>
<path d="M1241.12,206.22L1252.12,206.22L1246.62,216.22Z" fill="#029e73"/>
<path d="M1336.16,203.46L1347.16,203.46L1341.66,213.46Z" fill="#029e73"/>
<path d="M961.5,198.7L977.3,204.6L993.2,208.1L1009.0,202.9L1024.9,197.7L1040.7,194.9L1056.5,192.5L1072.4,190.8L1088.2,188.4L1104.1,187.4L1119.9,187.4L1135.7,192.5L1151.6,196.7L1167.4,196.0L1183.3,193.2L1199.1,192.5L1214.9,191.8L1230.8,192.5L1246.6,192.5L1262.5,194.3L1278.3,196.0L1294.1,200.1L1310.0,202.9L1325.8,206.3L1341.7,208.1L1357.5,204.6" fill="none" stroke="#0173b2" stroke-width="3.1" stroke-linejoin="round" stroke-linecap="square"/>
<path d="M959.10,193.14H963.90V196.34H967.10V201.14H963.90V204.34H959.10V201.14H955.90V196.34H959.10Z" fill="#0173b2"/>
<path d="M1054.14,186.93H1058.94V190.13H1062.14V194.93H1058.94V198.13H1054.14V194.93H1050.94V190.13H1054.14Z" fill="#0173b2"/>
<path d="M1149.18,191.07H1153.98V194.27H1157.18V199.07H1153.98V202.27H1149.18V199.07H1145.98V194.27H1149.18Z" fill="#0173b2"/>
<path d="M1244.22,186.93H1249.02V190.13H1252.22V194.93H1249.02V198.13H1244.22V194.93H1241.02V190.13H1244.22Z" fill="#0173b2"/>
<path d="M1339.26,202.46H1344.06V205.66H1347.26V210.46H1344.06V213.66H1339.26V210.46H1336.06V205.66H1339.26Z" fill="#0173b2"/>
</g>
<rect x="961.5" y="23.5" width="396.00" height="200.00" fill="none" stroke="#cccccc" stroke-width="1"/>
<text fill="#262626" x="961.50" y="242.00" font-size="15.6" text-anchor="middle" textLength="9.93" lengthAdjust="spacingAndGlyphs" style="" >0</text>
<text fill="#262626" x="1040.70" y="242.00" font-size="15.6" text-anchor="middle" textLength="9.93" lengthAdjust="spacingAndGlyphs" style="" >1</text>
<text fill="#262626" x="1119.90" y="242.00" font-size="15.6" text-anchor="middle" textLength="9.93" lengthAdjust="spacingAndGlyphs" style="" >2</text>
<text fill="#262626" x="1199.10" y="242.00" font-size="15.6" text-anchor="middle" textLength="9.93" lengthAdjust="spacingAndGlyphs" style="" >3</text>
<text fill="#262626" x="1278.30" y="242.00" font-size="15.6" text-anchor="middle" textLength="9.93" lengthAdjust="spacingAndGlyphs" style="" >4</text>
<text fill="#262626" x="1357.50" y="242.00" font-size="15.6" text-anchor="middle" textLength="9.93" lengthAdjust="spacingAndGlyphs" style="" >5</text>
<text fill="#262626" x="954.60" y="229.00" font-size="15.6" text-anchor="end" textLength="24.81" lengthAdjust="spacingAndGlyphs" style="" >0.0</text>
<text fill="#262626" x="954.60" y="171.75" font-size="15.6" text-anchor="end" textLength="24.81" lengthAdjust="spacingAndGlyphs" style="" >0.1</text>
<text fill="#262626" x="954.60" y="114.50" font-size="15.6" text-anchor="end" textLength="24.81" lengthAdjust="spacingAndGlyphs" style="" >0.2</text>
<text fill="#262626" x="954.60" y="57.25" font-size="15.6" text-anchor="end" textLength="24.81" lengthAdjust="spacingAndGlyphs" style="" >0.3</text>
<text fill="#262626" x="1159.50" y="17.00" font-size="22.0" text-anchor="middle" textLength="231.90" lengthAdjust="spacingAndGlyphs" style="font-weight:bold;" >Quadruped (Pixels)</text>
<text fill="#262626" x="1159.50" y="261.90" font-size="17.2" text-anchor="middle" textLength="85.54" lengthAdjust="spacingAndGlyphs" style="" >Env Steps</text>
<text fill="#262626" x="1357.50" y="258.20" font-size="13.0" text-anchor="end" textLength="24.54" lengthAdjust="spacingAndGlyphs" style="" >1e6</text>
<line x1="63.50" y1="296.5" x2="63.50" y2="496.5" stroke="#cccccc" stroke-width="1"/>
<line x1="142.50" y1="296.5" x2="142.50" y2="496.5" stroke="#cccccc" stroke-width="1"/>
<line x1="221.50" y1="296.5" x2="221.50" y2="496.5" stroke="#cccccc" stroke-width="1"/>
<line x1="300.50" y1="296.5" x2="300.50" y2="496.5" stroke="#cccccc" stroke-width="1"/>
<line x1="379.50" y1="296.5" x2="379.50" y2="496.5" stroke="#cccccc" stroke-width="1"/>
<line x1="63.5" y1="496.50" x2="458.5" y2="496.50" stroke="#cccccc" stroke-width="1"/>
<line x1="63.5" y1="433.50" x2="458.5" y2="433.50" stroke="#cccccc" stroke-width="1"/>
<line x1="63.5" y1="370.50" x2="458.5" y2="370.50" stroke="#cccccc" stroke-width="1"/>
<line x1="63.5" y1="307.50" x2="458.5" y2="307.50" stroke="#cccccc" stroke-width="1"/>
<clipPath id="clip3"><rect x="63.3" y="296.3" width="395.00" height="200.00"/></clipPath>
<g clip-path="url(#clip3)">
<path d="M63.3,431.0L79.1,437.9L94.9,424.1L110.7,424.1L126.5,429.3L142.3,425.9L158.1,420.7L173.9,417.2L189.7,406.9L205.5,403.4L221.3,406.9L237.1,420.7L252.9,396.5L268.7,412.0L284.5,408.6L300.3,379.3L316.1,356.8L331.9,377.5L347.7,382.7L363.5,374.1L379.3,353.4L395.1,368.9L410.9,363.7L426.7,360.3L442.5,351.7L458.3,339.6L458.3,441.4L442.5,403.4L426.7,417.2L410.9,406.9L395.1,408.6L379.3,418.9L363.5,427.6L347.7,434.5L331.9,429.3L316.1,424.1L300.3,429.3L284.5,441.4L268.7,444.8L252.9,458.6L237.1,469.0L221.3,465.5L205.5,469.0L189.7,472.4L173.9,469.0L158.1,474.2L142.3,488.0L126.5,470.7L110.7,472.4L94.9,475.9L79.1,479.3L63.3,475.9Z" fill="#56b4e9" fill-opacity="0.2"/>
<path d="M63.3,413.8L79.1,431.0L94.9,424.1L110.7,431.0L126.5,405.1L142.3,425.9L158.1,422.4L173.9,396.5L189.7,406.9L205.5,375.8L221.3,393.1L237.1,374.1L252.9,367.2L268.7,387.9L284.5,374.1L300.3,374.1L316.1,365.5L331.9,360.3L347.7,363.7L363.5,348.2L379.3,341.3L395.1,297.1L410.9,334.4L426.7,322.3L442.5,316.5L458.3,318.9L458.3,391.3L442.5,382.7L426.7,384.4L410.9,381.0L395.1,363.7L379.3,400.0L363.5,412.0L347.7,417.2L331.9,415.5L316.1,422.4L300.3,429.3L284.5,432.8L268.7,424.1L252.9,441.4L237.1,458.6L221.3,465.5L205.5,474.2L189.7,462.1L173.9,465.5L158.1,462.1L142.3,465.5L126.5,463.8L110.7,470.7L94.9,481.1L79.1,475.9L63.3,488.0Z" fill="#de8f05" fill-opacity="0.2"/>
<path d="M63.3,420.7L79.1,431.0L94.9,434.5L110.7,441.4L126.5,444.8L142.3,437.9L158.1,434.5L173.9,427.6L189.7,424.1L205.5,420.7L221.3,417.2L237.1,420.7L252.9,420.7L268.7,432.8L284.5,431.0L300.3,431.0L316.1,431.0L331.9,434.5L347.7,436.2L363.5,432.8L379.3,431.0L395.1,437.9L410.9,441.4L426.7,437.9L442.5,431.0L458.3,429.3L458.3,481.1L442.5,477.6L426.7,474.2L410.9,472.4L395.1,477.6L379.3,486.2L363.5,481.1L347.7,475.9L331.9,470.7L316.1,463.8L300.3,462.1L284.5,465.5L268.7,467.3L252.9,472.4L237.1,469.0L221.3,469.0L205.5,467.3L189.7,465.5L173.9,469.0L158.1,474.2L142.3,475.9L126.5,479.3L110.7,477.6L94.9,472.4L79.1,469.0L63.3,467.3Z" fill="#029e73" fill-opacity="0.2"/>
<path d="M63.3,422.4L79.1,437.9L94.9,437.9L110.7,429.3L126.5,422.4L142.3,424.1L158.1,425.9L173.9,417.2L189.7,415.5L205.5,417.2L221.3,418.9L237.1,424.1L252.9,431.0L268.7,422.4L284.5,425.9L300.3,425.9L316.1,422.4L331.9,420.7L347.7,420.7L363.5,425.9L379.3,427.6L395.1,436.2L410.9,441.4L426.7,437.9L442.5,431.0L458.3,429.3L458.3,486.2L442.5,482.8L426.7,479.3L410.9,481.1L395.1,475.9L379.3,467.3L363.5,475.9L347.7,482.8L331.9,469.0L316.1,463.8L300.3,467.3L284.5,470.7L268.7,472.4L252.9,469.0L237.1,465.5L221.3,462.1L205.5,465.5L189.7,467.3L173.9,467.3L158.1,465.5L142.3,462.1L126.5,465.5L110.7,470.7L94.9,477.6L79.1,469.0L63.3,465.5Z" fill="#0173b2" fill-opacity="0.2"/>
<path d="M63.3,451.7L79.1,451.7L94.9,453.5L110.7,446.6L126.5,446.6L142.3,459.0L158.1,449.0L173.9,442.1L189.7,436.2L205.5,429.3L221.3,420.7L237.1,437.9L252.9,414.5L268.7,427.6L284.5,428.3L300.3,408.6L316.1,394.8L331.9,402.7L347.7,412.0L363.5,401.7L379.3,391.3L395.1,400.0L410.9,384.4L426.7,388.9L442.5,378.6L458.3,393.1" fill="none" stroke="#56b4e9" stroke-width="3.1" stroke-linejoin="round" stroke-linecap="square"/>
<circle cx="252.90" cy="414.46" r="5.4" fill="#56b4e9"/>
<circle cx="300.30" cy="408.60" r="5.4" fill="#56b4e9"/>
<circle cx="347.70" cy="412.05" r="5.4" fill="#56b4e9"/>
<circle cx="395.10" cy="399.97" r="5.4" fill="#56b4e9"/>
<circle cx="442.50" cy="378.58" r="5.4" fill="#56b4e9"/>
<path d="M63.3,453.5L79.1,459.3L94.9,452.4L110.7,452.4L126.5,432.8L142.3,444.8L158.1,439.7L173.9,430.3L189.7,434.5L205.5,425.2L221.3,424.1L237.1,406.9L252.9,400.7L268.7,409.6L284.5,404.1L300.3,402.7L316.1,402.7L331.9,389.6L347.7,390.3L363.5,385.5L379.3,375.8L395.1,338.5L410.9,360.3L426.7,356.8L442.5,344.8L458.3,356.8" fill="none" stroke="#de8f05" stroke-width="3.1" stroke-linejoin="round" stroke-linecap="square"/>
<rect x="105.40" y="447.12" width="10.60" height="10.60" fill="#de8f05"/>
<rect x="152.80" y="434.35" width="10.60" height="10.60" fill="#de8f05"/>
<rect x="200.20" y="419.86" width="10.60" height="10.60" fill="#de8f05"/>
<rect x="247.60" y="395.36" width="10.60" height="10.60" fill="#de8f05"/>
<rect x="295.00" y="397.43" width="10.60" height="10.60" fill="#de8f05"/>
<rect x="342.40" y="385.01" width="10.60" height="10.60" fill="#de8f05"/>
<rect x="389.80" y="333.25" width="10.60" height="10.60" fill="#de8f05"/>
<rect x="437.20" y="339.46" width="10.60" height="10.60" fill="#de8f05"/>
<path d="M63.3,442.1L79.1,446.6L94.9,451.7L110.7,458.6L126.5,464.8L142.3,458.6L158.1,453.5L173.9,448.3L189.7,444.8L205.5,444.8L221.3,444.8L237.1,443.1L252.9,443.1L268.7,444.8L284.5,448.3L300.3,448.3L316.1,447.6L331.9,454.5L347.7,461.4L363.5,459.3L379.3,457.9L395.1,459.3L410.9,460.0L426.7,460.0L442.5,458.6L458.3,455.2" fill="none" stroke="#029e73" stroke-width="3.1" stroke-linejoin="round" stroke-linecap="square"/>
<path d="M57.80,437.47L68.80,437.47L63.30,447.47Z" fill="#029e73"/>
<path d="M152.60,448.86L163.60,448.86L158.10,458.86Z" fill="#029e73"/>
<path d="M247.40,438.50L258.40,438.50L252.90,448.50Z" fill="#029e73"/>
<path d="M342.20,456.79L353.20,456.79L347.70,466.79Z" fill="#029e73"/>
<path d="M437.00,454.03L448.00,454.03L442.50,464.03Z" fill="#029e73"/>
<path d="M63.3,451.7L79.1,453.5L94.9,456.9L110.7,450.0L126.5,443.1L142.3,442.1L158.1,443.8L173.9,444.8L189.7,444.8L205.5,444.1L221.3,441.4L237.1,444.8L252.9,451.7L268.7,448.3L284.5,446.6L300.3,444.1L316.1,439.7L331.9,444.8L347.7,450.0L363.5,447.6L379.3,446.6L395.1,454.5L410.9,461.0L426.7,462.1L442.5,463.8L458.3,463.8" fill="none" stroke="#0173b2" stroke-width="3.1" stroke-linejoin="round" stroke-linecap="square"/>
<path d="M60.90,446.13H65.70V449.33H68.90V454.13H65.70V457.33H60.90V454.13H57.70V449.33H60.90Z" fill="#0173b2"/>
<path d="M155.70,438.19H160.50V441.39H163.70V446.19H160.50V449.39H155.70V446.19H152.50V441.39H155.70Z" fill="#0173b2"/>
<path d="M250.50,446.13H255.30V449.33H258.50V454.13H255.30V457.33H250.50V454.13H247.30V449.33H250.50Z" fill="#0173b2"/>
<path d="M345.30,444.40H350.10V447.60H353.30V452.40H350.10V455.60H345.30V452.40H342.10V447.60H345.30Z" fill="#0173b2"/>
<path d="M440.10,458.21H444.90V461.41H448.10V466.21H444.90V469.41H440.10V466.21H436.90V461.41H440.10Z" fill="#0173b2"/>
</g>
<rect x="63.5" y="296.5" width="395.00" height="200.00" fill="none" stroke="#cccccc" stroke-width="1"/>
<text fill="#262626" x="63.30" y="515.10" font-size="15.6" text-anchor="middle" textLength="9.93" lengthAdjust="spacingAndGlyphs" style="" >0</text>
<text fill="#262626" x="142.30" y="515.10" font-size="15.6" text-anchor="middle" textLength="9.93" lengthAdjust="spacingAndGlyphs" style="" >1</text>
<text fill="#262626" x="221.30" y="515.10" font-size="15.6" text-anchor="middle" textLength="9.93" lengthAdjust="spacingAndGlyphs" style="" >2</text>
<text fill="#262626" x="300.30" y="515.10" font-size="15.6" text-anchor="middle" textLength="9.93" lengthAdjust="spacingAndGlyphs" style="" >3</text>
<text fill="#262626" x="379.30" y="515.10" font-size="15.6" text-anchor="middle" textLength="9.93" lengthAdjust="spacingAndGlyphs" style="" >4</text>
<text fill="#262626" x="458.30" y="515.10" font-size="15.6" text-anchor="middle" textLength="9.93" lengthAdjust="spacingAndGlyphs" style="" >5</text>
<text fill="#262626" x="56.40" y="502.10" font-size="15.6" text-anchor="end" textLength="24.81" lengthAdjust="spacingAndGlyphs" style="" >0.0</text>
<text fill="#262626" x="56.40" y="439.21" font-size="15.6" text-anchor="end" textLength="24.81" lengthAdjust="spacingAndGlyphs" style="" >0.1</text>
<text fill="#262626" x="56.40" y="376.31" font-size="15.6" text-anchor="end" textLength="24.81" lengthAdjust="spacingAndGlyphs" style="" >0.2</text>
<text fill="#262626" x="56.40" y="313.42" font-size="15.6" text-anchor="end" textLength="24.81" lengthAdjust="spacingAndGlyphs" style="" >0.3</text>
<text fill="#262626" x="260.80" y="289.90" font-size="22.0" text-anchor="middle" textLength="220.28" lengthAdjust="spacingAndGlyphs" style="font-weight:bold;" >Humanoid (Pixels)</text>
<text fill="#262626" x="260.80" y="535.80" font-size="17.2" text-anchor="middle" textLength="85.54" lengthAdjust="spacingAndGlyphs" style="" >Env Steps</text>
<text fill="#262626" x="458.30" y="531.30" font-size="13.0" text-anchor="end" textLength="24.54" lengthAdjust="spacingAndGlyphs" style="" >1e6</text>
<text fill="#262626" x="0.00" y="0.00" font-size="17.2" text-anchor="middle" textLength="186.66" lengthAdjust="spacingAndGlyphs" style="" transform="translate(24.2,396.30) rotate(-90)">Staying Time Fraction</text>
<line x1="512.50" y1="296.5" x2="512.50" y2="496.5" stroke="#cccccc" stroke-width="1"/>
<line x1="578.50" y1="296.5" x2="578.50" y2="496.5" stroke="#cccccc" stroke-width="1"/>
<line x1="644.50" y1="296.5" x2="644.50" y2="496.5" stroke="#cccccc" stroke-width="1"/>
<line x1="709.50" y1="296.5" x2="709.50" y2="496.5" stroke="#cccccc" stroke-width="1"/>
<line x1="775.50" y1="296.5" x2="775.50" y2="496.5" stroke="#cccccc" stroke-width="1"/>
<line x1="841.50" y1="296.5" x2="841.50" y2="496.5" stroke="#cccccc" stroke-width="1"/>
<line x1="512.5" y1="496.50" x2="907.5" y2="496.50" stroke="#cccccc" stroke-width="1"/>
<line x1="512.5" y1="449.50" x2="907.5" y2="449.50" stroke="#cccccc" stroke-width="1"/>
<line x1="512.5" y1="402.50" x2="907.5" y2="402.50" stroke="#cccccc" stroke-width="1"/>
<line x1="512.5" y1="356.50" x2="907.5" y2="356.50" stroke="#cccccc" stroke-width="1"/>
<line x1="512.5" y1="309.50" x2="907.5" y2="309.50" stroke="#cccccc" stroke-width="1"/>
<clipPath id="clip4"><rect x="512.4" y="296.3" width="394.90" height="200.00"/></clipPath>
<g clip-path="url(#clip4)">
<path d="M512.4,494.9L525.6,455.2L538.7,434.5L551.9,437.9L565.1,396.5L578.2,410.3L591.4,406.9L604.5,400.0L617.7,398.2L630.9,393.1L644.0,387.9L657.2,375.8L670.4,375.8L683.5,353.4L696.7,374.1L709.8,379.3L723.0,355.1L736.2,362.0L749.3,355.1L762.5,358.6L775.7,363.7L788.8,375.8L802.0,370.6L815.1,375.8L828.3,374.1L841.5,367.2L854.6,365.5L867.8,367.2L881.0,370.6L894.1,375.8L907.3,341.3L907.3,427.6L894.1,444.8L881.0,437.9L867.8,437.9L854.6,444.8L841.5,432.8L828.3,444.8L815.1,437.9L802.0,439.7L788.8,437.9L775.7,441.4L762.5,437.9L749.3,446.6L736.2,434.5L723.0,441.4L709.8,448.3L696.7,441.4L683.5,444.8L670.4,453.5L657.2,450.0L644.0,453.5L630.9,451.7L617.7,455.2L604.5,451.7L591.4,450.0L578.2,450.0L565.1,448.3L551.9,486.2L538.7,481.1L525.6,493.1L512.4,495.9Z" fill="#56b4e9" fill-opacity="0.2"/>
<path d="M512.4,489.7L525.6,368.9L538.7,375.8L551.9,375.8L565.1,353.4L578.2,331.0L591.4,313.7L604.5,320.6L617.7,334.4L630.9,315.4L644.0,322.3L657.2,303.4L670.4,308.5L683.5,306.8L696.7,341.3L709.8,329.2L723.0,320.6L736.2,318.9L749.3,312.0L762.5,297.1L775.7,313.7L788.8,329.2L802.0,303.4L815.1,318.9L828.3,312.0L841.5,320.6L854.6,336.1L867.8,317.2L881.0,322.3L894.1,327.5L907.3,332.7L907.3,372.4L894.1,384.4L881.0,381.0L867.8,379.3L854.6,377.5L841.5,374.1L828.3,375.8L815.1,394.8L802.0,381.0L788.8,406.9L775.7,405.1L762.5,379.3L749.3,389.6L736.2,384.4L723.0,396.5L709.8,389.6L696.7,403.4L683.5,372.4L670.4,396.5L657.2,420.7L644.0,425.9L630.9,394.8L617.7,406.9L604.5,396.5L591.4,410.3L578.2,420.7L565.1,437.9L551.9,448.3L538.7,444.8L525.6,486.2L512.4,495.9Z" fill="#de8f05" fill-opacity="0.2"/>
<path d="M512.4,495.2L525.6,489.7L538.7,490.4L551.9,489.7L565.1,489.0L578.2,490.4L591.4,488.3L604.5,490.4L617.7,489.7L630.9,489.7L644.0,490.4L657.2,490.4L670.4,490.0L683.5,490.4L696.7,490.7L709.8,490.7L723.0,490.7L736.2,490.4L749.3,490.7L762.5,490.4L775.7,490.7L788.8,490.7L802.0,490.4L815.1,490.7L828.3,490.7L841.5,490.4L854.6,490.7L867.8,490.7L881.0,490.7L894.1,490.7L907.3,490.7L907.3,496.2L894.1,496.2L881.0,496.2L867.8,496.2L854.6,496.2L841.5,496.2L828.3,496.2L815.1,496.2L802.0,496.2L788.8,496.2L775.7,496.2L762.5,496.2L749.3,496.2L736.2,496.2L723.0,496.2L709.8,496.2L696.7,496.2L683.5,496.2L670.4,496.2L657.2,496.2L644.0,496.2L630.9,496.2L617.7,496.2L604.5,496.2L591.4,496.2L578.2,496.2L565.1,496.2L551.9,496.2L538.7,496.2L525.6,496.2L512.4,496.2Z" fill="#029e73" fill-opacity="0.2"/>
<path d="M512.4,494.9L525.6,408.6L538.7,406.9L551.9,429.3L565.1,444.8L578.2,427.6L591.4,429.3L604.5,441.4L617.7,437.9L630.9,437.9L644.0,446.6L657.2,444.8L670.4,439.7L683.5,436.2L696.7,431.0L709.8,427.6L723.0,450.0L736.2,436.2L749.3,431.0L762.5,432.8L775.7,443.1L788.8,450.0L802.0,444.8L815.1,436.2L828.3,431.0L841.5,437.9L854.6,444.8L867.8,434.5L881.0,437.9L894.1,443.1L907.3,425.9L907.3,481.1L894.1,479.3L881.0,472.4L867.8,469.0L854.6,484.5L841.5,472.4L828.3,465.5L815.1,474.2L802.0,481.1L788.8,489.7L775.7,479.3L762.5,472.4L749.3,477.6L736.2,479.3L723.0,484.5L709.8,481.1L696.7,477.6L683.5,481.1L670.4,484.5L657.2,481.1L644.0,475.9L630.9,481.1L617.7,481.1L604.5,481.1L591.4,475.9L578.2,475.9L565.1,482.8L551.9,470.7L538.7,469.0L525.6,493.1L512.4,495.9Z" fill="#0173b2" fill-opacity="0.2"/>
<path d="M512.4,494.9L525.6,479.3L538.7,456.9L551.9,462.1L565.1,420.7L578.2,429.3L591.4,434.5L604.5,431.0L617.7,437.9L630.9,420.7L644.0,408.6L657.2,403.4L670.4,426.9L683.5,401.7L696.7,405.1L709.8,413.8L723.0,408.6L736.2,393.1L749.3,414.5L762.5,402.7L775.7,412.0L788.8,406.9L802.0,412.0L815.1,412.0L828.3,413.8L841.5,400.0L854.6,406.9L867.8,401.7L881.0,408.6L894.1,415.5L907.3,381.0" fill="none" stroke="#56b4e9" stroke-width="3.1" stroke-linejoin="round" stroke-linecap="square"/>
<circle cx="551.89" cy="462.08" r="5.4" fill="#56b4e9"/>
<circle cx="591.38" cy="434.48" r="5.4" fill="#56b4e9"/>
<circle cx="630.87" cy="420.67" r="5.4" fill="#56b4e9"/>
<circle cx="670.36" cy="426.89" r="5.4" fill="#56b4e9"/>
<circle cx="709.85" cy="413.77" r="5.4" fill="#56b4e9"/>
<circle cx="749.33" cy="414.46" r="5.4" fill="#56b4e9"/>
<circle cx="788.82" cy="406.87" r="5.4" fill="#56b4e9"/>
<circle cx="828.31" cy="413.77" r="5.4" fill="#56b4e9"/>
<circle cx="867.80" cy="401.70" r="5.4" fill="#56b4e9"/>
<circle cx="907.29" cy="380.99" r="5.4" fill="#56b4e9"/>
<path d="M512.4,493.1L525.6,465.5L538.7,413.8L551.9,411.4L565.1,398.2L578.2,384.4L591.4,360.3L604.5,359.3L617.7,367.2L630.9,355.1L644.0,374.1L657.2,362.0L670.4,348.2L683.5,339.6L696.7,375.8L709.8,355.1L723.0,359.3L736.2,349.9L749.3,357.9L762.5,337.2L775.7,356.8L788.8,370.6L802.0,337.2L815.1,356.8L828.3,341.3L841.5,343.0L854.6,351.7L867.8,361.0L881.0,354.4L894.1,358.6L907.3,365.5" fill="none" stroke="#de8f05" stroke-width="3.1" stroke-linejoin="round" stroke-linecap="square"/>
<rect x="546.59" y="406.06" width="10.60" height="10.60" fill="#de8f05"/>
<rect x="586.08" y="354.99" width="10.60" height="10.60" fill="#de8f05"/>
<rect x="625.57" y="349.81" width="10.60" height="10.60" fill="#de8f05"/>
<rect x="665.06" y="342.91" width="10.60" height="10.60" fill="#de8f05"/>
<rect x="704.55" y="349.81" width="10.60" height="10.60" fill="#de8f05"/>
<rect x="744.03" y="352.57" width="10.60" height="10.60" fill="#de8f05"/>
<rect x="783.52" y="365.34" width="10.60" height="10.60" fill="#de8f05"/>
<rect x="823.01" y="336.01" width="10.60" height="10.60" fill="#de8f05"/>
<rect x="862.50" y="355.68" width="10.60" height="10.60" fill="#de8f05"/>
<rect x="901.99" y="360.16" width="10.60" height="10.60" fill="#de8f05"/>
<path d="M512.4,495.9L525.6,492.4L538.7,492.4L551.9,492.4L565.1,492.1L578.2,492.4L591.4,490.4L604.5,492.4L617.7,492.4L630.9,492.1L644.0,492.4L657.2,492.4L670.4,492.4L683.5,492.4L696.7,493.1L709.8,493.1L723.0,493.1L736.2,492.8L749.3,493.1L762.5,492.8L775.7,493.1L788.8,493.1L802.0,492.8L815.1,493.1L828.3,493.1L841.5,492.8L854.6,493.1L867.8,493.1L881.0,493.1L894.1,493.1L907.3,493.1" fill="none" stroke="#029e73" stroke-width="3.1" stroke-linejoin="round" stroke-linecap="square"/>
<path d="M546.39,487.85L557.39,487.85L551.89,497.85Z" fill="#029e73"/>
<path d="M585.88,485.78L596.88,485.78L591.38,495.78Z" fill="#029e73"/>
<path d="M625.37,487.50L636.37,487.50L630.87,497.50Z" fill="#029e73"/>
<path d="M664.86,487.85L675.86,487.85L670.36,497.85Z" fill="#029e73"/>
<path d="M704.35,488.54L715.35,488.54L709.85,498.54Z" fill="#029e73"/>
<path d="M743.83,488.54L754.83,488.54L749.33,498.54Z" fill="#029e73"/>
<path d="M783.32,488.54L794.32,488.54L788.82,498.54Z" fill="#029e73"/>
<path d="M822.81,488.54L833.81,488.54L828.31,498.54Z" fill="#029e73"/>
<path d="M862.30,488.54L873.30,488.54L867.80,498.54Z" fill="#029e73"/>
<path d="M901.79,488.54L912.79,488.54L907.29,498.54Z" fill="#029e73"/>
<path d="M512.4,495.9L525.6,446.6L538.7,434.5L551.9,448.3L565.1,467.3L578.2,451.7L591.4,451.0L604.5,466.6L617.7,463.8L630.9,466.6L644.0,461.4L657.2,463.1L670.4,464.5L683.5,456.9L696.7,455.2L709.8,455.9L723.0,466.6L736.2,463.8L749.3,460.4L762.5,451.7L775.7,457.9L788.8,471.4L802.0,463.8L815.1,456.9L828.3,449.3L841.5,458.6L854.6,467.9L867.8,452.4L881.0,456.9L894.1,460.4L907.3,462.1" fill="none" stroke="#0173b2" stroke-width="3.1" stroke-linejoin="round" stroke-linecap="square"/>
<path d="M549.49,442.68H554.29V445.88H557.49V450.68H554.29V453.88H549.49V450.68H546.29V445.88H549.49Z" fill="#0173b2"/>
<path d="M588.98,445.44H593.78V448.64H596.98V453.44H593.78V456.64H588.98V453.44H585.78V448.64H588.98Z" fill="#0173b2"/>
<path d="M628.47,460.97H633.27V464.17H636.47V468.97H633.27V472.17H628.47V468.97H625.27V464.17H628.47Z" fill="#0173b2"/>
<path d="M667.96,458.90H672.76V462.10H675.96V466.90H672.76V470.10H667.96V466.90H664.76V462.10H667.96Z" fill="#0173b2"/>
<path d="M707.45,450.27H712.25V453.47H715.45V458.27H712.25V461.47H707.45V458.27H704.25V453.47H707.45Z" fill="#0173b2"/>
<path d="M746.93,454.76H751.73V457.96H754.93V462.76H751.73V465.96H746.93V462.76H743.73V457.96H746.93Z" fill="#0173b2"/>
<path d="M786.42,465.80H791.22V469.00H794.42V473.80H791.22V477.00H786.42V473.80H783.22V469.00H786.42Z" fill="#0173b2"/>
<path d="M825.91,443.71H830.71V446.91H833.91V451.71H830.71V454.91H825.91V451.71H822.71V446.91H825.91Z" fill="#0173b2"/>
<path d="M865.40,446.82H870.20V450.02H873.40V454.82H870.20V458.02H865.40V454.82H862.20V450.02H865.40Z" fill="#0173b2"/>
<path d="M904.89,456.48H909.69V459.68H912.89V464.48H909.69V467.68H904.89V464.48H901.69V459.68H904.89Z" fill="#0173b2"/>
</g>
<rect x="512.5" y="296.5" width="395.00" height="200.00" fill="none" stroke="#cccccc" stroke-width="1"/>
<text fill="#262626" x="512.40" y="515.10" font-size="15.6" text-anchor="middle" textLength="24.81" lengthAdjust="spacingAndGlyphs" style="" >0.0</text>
<text fill="#262626" x="578.22" y="515.10" font-size="15.6" text-anchor="middle" textLength="24.81" lengthAdjust="spacingAndGlyphs" style="" >0.5</text>
<text fill="#262626" x="644.03" y="515.10" font-size="15.6" text-anchor="middle" textLength="24.81" lengthAdjust="spacingAndGlyphs" style="" >1.0</text>
<text fill="#262626" x="709.85" y="515.10" font-size="15.6" text-anchor="middle" textLength="24.81" lengthAdjust="spacingAndGlyphs" style="" >1.5</text>
<text fill="#262626" x="775.67" y="515.10" font-size="15.6" text-anchor="middle" textLength="24.81" lengthAdjust="spacingAndGlyphs" style="" >2.0</text>
<text fill="#262626" x="841.48" y="515.10" font-size="15.6" text-anchor="middle" textLength="24.81" lengthAdjust="spacingAndGlyphs" style="" >2.5</text>
<text fill="#262626" x="907.30" y="515.10" font-size="15.6" text-anchor="middle" textLength="24.81" lengthAdjust="spacingAndGlyphs" style="" >3.0</text>
<text fill="#262626" x="505.50" y="502.10" font-size="15.6" text-anchor="end" textLength="24.81" lengthAdjust="spacingAndGlyphs" style="" >0.0</text>
<text fill="#262626" x="505.50" y="455.37" font-size="15.6" text-anchor="end" textLength="24.81" lengthAdjust="spacingAndGlyphs" style="" >0.1</text>
<text fill="#262626" x="505.50" y="408.64" font-size="15.6" text-anchor="end" textLength="24.81" lengthAdjust="spacingAndGlyphs" style="" >0.2</text>
<text fill="#262626" x="505.50" y="361.91" font-size="15.6" text-anchor="end" textLength="24.81" lengthAdjust="spacingAndGlyphs" style="" >0.3</text>
<text fill="#262626" x="505.50" y="315.18" font-size="15.6" text-anchor="end" textLength="24.81" lengthAdjust="spacingAndGlyphs" style="" >0.4</text>
<text fill="#262626" x="709.85" y="289.90" font-size="22.0" text-anchor="middle" textLength="189.71" lengthAdjust="spacingAndGlyphs" style="font-weight:bold;" >Kitchen (Pixels)</text>
<text fill="#262626" x="709.85" y="535.80" font-size="17.2" text-anchor="middle" textLength="85.54" lengthAdjust="spacingAndGlyphs" style="" >Env Steps</text>
<text fill="#262626" x="907.30" y="531.30" font-size="13.0" text-anchor="end" textLength="24.54" lengthAdjust="spacingAndGlyphs" style="" >1e6</text>
<line x1="961.50" y1="296.5" x2="961.50" y2="496.5" stroke="#cccccc" stroke-width="1"/>
<line x1="1014.50" y1="296.5" x2="1014.50" y2="496.5" stroke="#cccccc" stroke-width="1"/>
<line x1="1067.50" y1="296.5" x2="1067.50" y2="496.5" stroke="#cccccc" stroke-width="1"/>
<line x1="1119.50" y1="296.5" x2="1119.50" y2="496.5" stroke="#cccccc" stroke-width="1"/>
<line x1="1172.50" y1="296.5" x2="1172.50" y2="496.5" stroke="#cccccc" stroke-width="1"/>
<line x1="1225.50" y1="296.5" x2="1225.50" y2="496.5" stroke="#cccccc" stroke-width="1"/>
<line x1="1278.50" y1="296.5" x2="1278.50" y2="496.5" stroke="#cccccc" stroke-width="1"/>
<line x1="1331.50" y1="296.5" x2="1331.50" y2="496.5" stroke="#cccccc" stroke-width="1"/>
<line x1="961.5" y1="496.50" x2="1357.5" y2="496.50" stroke="#cccccc" stroke-width="1"/>
<line x1="961.5" y1="442.50" x2="1357.5" y2="442.50" stroke="#cccccc" stroke-width="1"/>
<line x1="961.5" y1="389.50" x2="1357.5" y2="389.50" stroke="#cccccc" stroke-width="1"/>
<line x1="961.5" y1="335.50" x2="1357.5" y2="335.50" stroke="#cccccc" stroke-width="1"/>
<clipPath id="clip5"><rect x="961.5" y="296.3" width="396.00" height="200.00"/></clipPath>
<g clip-path="url(#clip5)">
<path d="M961.5,489.7L987.9,315.1L1014.3,327.2L1040.7,339.2L1067.1,308.5L1093.5,356.5L1119.9,339.2L1146.3,375.8L1172.7,389.6L1199.1,394.8L1225.5,396.5L1251.9,396.5L1278.3,396.5L1304.7,377.5L1331.1,396.5L1357.5,396.5L1357.5,471.7L1331.1,475.2L1304.7,481.8L1278.3,458.6L1251.9,471.1L1225.5,464.5L1199.1,466.9L1172.7,466.9L1146.3,465.2L1119.9,465.2L1093.5,444.5L1067.1,457.9L1040.7,446.9L1014.3,455.2L987.9,437.9L961.5,495.9Z" fill="#56b4e9" fill-opacity="0.2"/>
<path d="M961.5,491.4L987.9,341.3L1014.3,300.2L1040.7,347.2L1067.1,340.6L1093.5,325.1L1119.9,325.1L1146.3,339.2L1172.7,353.7L1199.1,393.1L1225.5,358.6L1251.9,365.5L1278.3,367.2L1304.7,377.5L1331.1,406.9L1357.5,384.4L1357.5,457.9L1331.1,462.1L1304.7,443.4L1278.3,443.4L1251.9,450.3L1225.5,459.3L1199.1,444.5L1172.7,458.6L1146.3,465.5L1119.9,463.8L1093.5,444.8L1067.1,441.4L1040.7,437.9L1014.3,465.5L987.9,406.9L961.5,495.9Z" fill="#de8f05" fill-opacity="0.2"/>
<path d="M961.5,491.4L987.9,400.0L1014.3,455.2L1040.7,465.5L1067.1,467.3L1093.5,470.7L1119.9,475.9L1146.3,481.1L1172.7,479.3L1199.1,451.7L1225.5,482.8L1251.9,477.6L1278.3,482.8L1304.7,474.2L1331.1,475.9L1357.5,486.2L1357.5,495.9L1331.1,495.9L1304.7,495.9L1278.3,495.9L1251.9,495.9L1225.5,495.9L1199.1,495.9L1172.7,495.9L1146.3,495.9L1119.9,495.9L1093.5,495.9L1067.1,495.9L1040.7,495.9L1014.3,495.9L987.9,495.9L961.5,495.9Z" fill="#029e73" fill-opacity="0.2"/>
<path d="M961.5,491.4L987.9,341.3L1014.3,296.5L1040.7,302.7L1067.1,308.5L1093.5,329.2L1119.9,332.7L1146.3,367.9L1172.7,356.5L1199.1,386.2L1225.5,332.7L1251.9,349.9L1278.3,344.8L1304.7,355.1L1331.1,297.1L1357.5,382.7L1357.5,495.9L1331.1,495.9L1304.7,495.9L1278.3,495.9L1251.9,484.5L1225.5,495.9L1199.1,495.9L1172.7,495.9L1146.3,482.1L1119.9,495.9L1093.5,488.7L1067.1,482.1L1040.7,494.2L1014.3,467.3L987.9,465.5L961.5,495.9Z" fill="#0173b2" fill-opacity="0.2"/>
<path d="M961.5,489.7L987.9,376.9L1014.3,395.5L1040.7,396.5L1067.1,383.4L1093.5,399.3L1119.9,400.7L1146.3,423.4L1172.7,427.6L1199.1,430.3L1225.5,437.2L1251.9,435.2L1278.3,425.9L1304.7,429.3L1331.1,433.8L1357.5,444.8" fill="none" stroke="#56b4e9" stroke-width="3.1" stroke-linejoin="round" stroke-linecap="square"/>
<path d="M961.5,493.1L987.9,390.7L1014.3,384.4L1040.7,387.9L1067.1,393.1L1093.5,380.3L1119.9,395.5L1146.3,401.7L1172.7,398.9L1199.1,420.7L1225.5,409.3L1251.9,405.1L1278.3,406.9L1304.7,411.0L1331.1,434.5L1357.5,420.0" fill="none" stroke="#de8f05" stroke-width="3.1" stroke-linejoin="round" stroke-linecap="square"/>
<rect x="956.20" y="487.84" width="10.60" height="10.60" fill="#de8f05"/>
<rect x="1035.40" y="382.59" width="10.60" height="10.60" fill="#de8f05"/>
<rect x="1114.60" y="390.18" width="10.60" height="10.60" fill="#de8f05"/>
<rect x="1193.80" y="415.37" width="10.60" height="10.60" fill="#de8f05"/>
<rect x="1273.00" y="401.57" width="10.60" height="10.60" fill="#de8f05"/>
<rect x="1352.20" y="414.68" width="10.60" height="10.60" fill="#de8f05"/>
<path d="M961.5,489.7L987.9,460.4L1014.3,474.2L1040.7,481.8L1067.1,481.1L1093.5,488.0L1119.9,489.0L1146.3,490.4L1172.7,489.0L1199.1,481.1L1225.5,491.4L1251.9,490.4L1278.3,491.4L1304.7,490.4L1331.1,489.0L1357.5,492.4" fill="none" stroke="#029e73" stroke-width="3.1" stroke-linejoin="round" stroke-linecap="square"/>
<path d="M1035.20,477.15L1046.20,477.15L1040.70,487.15Z" fill="#029e73"/>
<path d="M1114.40,484.40L1125.40,484.40L1119.90,494.40Z" fill="#029e73"/>
<path d="M1193.60,476.46L1204.60,476.46L1199.10,486.46Z" fill="#029e73"/>
<path d="M1272.80,486.81L1283.80,486.81L1278.30,496.81Z" fill="#029e73"/>
<path d="M1352.00,487.85L1363.00,487.85L1357.50,497.85Z" fill="#029e73"/>
<path d="M961.5,489.7L987.9,405.1L1014.3,374.1L1040.7,398.2L1067.1,393.1L1093.5,410.3L1119.9,419.6L1146.3,424.1L1172.7,425.9L1199.1,431.0L1225.5,429.3L1251.9,416.5L1278.3,427.6L1304.7,435.2L1331.1,402.7L1357.5,453.5" fill="none" stroke="#0173b2" stroke-width="3.1" stroke-linejoin="round" stroke-linecap="square"/>
<path d="M959.10,484.09H963.90V487.29H967.10V492.09H963.90V495.29H959.10V492.09H955.90V487.29H959.10Z" fill="#0173b2"/>
<path d="M1038.30,392.64H1043.10V395.84H1046.30V400.64H1043.10V403.84H1038.30V400.64H1035.10V395.84H1038.30Z" fill="#0173b2"/>
<path d="M1117.50,414.04H1122.30V417.24H1125.50V422.04H1122.30V425.24H1117.50V422.04H1114.30V417.24H1117.50Z" fill="#0173b2"/>
<path d="M1196.70,425.43H1201.50V428.63H1204.70V433.43H1201.50V436.63H1196.70V433.43H1193.50V428.63H1196.70Z" fill="#0173b2"/>
<path d="M1275.90,421.98H1280.70V425.18H1283.90V429.98H1280.70V433.18H1275.90V429.98H1272.70V425.18H1275.90Z" fill="#0173b2"/>
<path d="M1355.10,447.86H1359.90V451.06H1363.10V455.86H1359.90V459.06H1355.10V455.86H1351.90V451.06H1355.10Z" fill="#0173b2"/>
</g>
<rect x="961.5" y="296.5" width="396.00" height="200.00" fill="none" stroke="#cccccc" stroke-width="1"/>
<text fill="#262626" x="961.50" y="515.10" font-size="15.6" text-anchor="middle" textLength="24.81" lengthAdjust="spacingAndGlyphs" style="" >0.0</text>
<text fill="#262626" x="1014.30" y="515.10" font-size="15.6" text-anchor="middle" textLength="24.81" lengthAdjust="spacingAndGlyphs" style="" >0.2</text>
<text fill="#262626" x="1067.10" y="515.10" font-size="15.6" text-anchor="middle" textLength="24.81" lengthAdjust="spacingAndGlyphs" style="" >0.4</text>
<text fill="#262626" x="1119.90" y="515.10" font-size="15.6" text-anchor="middle" textLength="24.81" lengthAdjust="spacingAndGlyphs" style="" >0.6</text>
<text fill="#262626" x="1172.70" y="515.10" font-size="15.6" text-anchor="middle" textLength="24.81" lengthAdjust="spacingAndGlyphs" style="" >0.8</text>
<text fill="#262626" x="1225.50" y="515.10" font-size="15.6" text-anchor="middle" textLength="24.81" lengthAdjust="spacingAndGlyphs" style="" >1.0</text>
<text fill="#262626" x="1278.30" y="515.10" font-size="15.6" text-anchor="middle" textLength="24.81" lengthAdjust="spacingAndGlyphs" style="" >1.2</text>
<text fill="#262626" x="1331.10" y="515.10" font-size="15.6" text-anchor="middle" textLength="24.81" lengthAdjust="spacingAndGlyphs" style="" >1.4</text>
<text fill="#262626" x="954.60" y="502.10" font-size="15.6" text-anchor="end" textLength="24.81" lengthAdjust="spacingAndGlyphs" style="" >0.0</text>
<text fill="#262626" x="954.60" y="448.48" font-size="15.6" text-anchor="end" textLength="24.81" lengthAdjust="spacingAndGlyphs" style="" >0.1</text>
<text fill="#262626" x="954.60" y="394.86" font-size="15.6" text-anchor="end" textLength="24.81" lengthAdjust="spacingAndGlyphs" style="" >0.2</text>
<text fill="#262626" x="954.60" y="341.24" font-size="15.6" text-anchor="end" textLength="24.81" lengthAdjust="spacingAndGlyphs" style="" >0.3</text>
<text fill="#262626" x="1159.50" y="289.90" font-size="22.0" text-anchor="middle" textLength="196.96" lengthAdjust="spacingAndGlyphs" style="font-weight:bold;" >Robobin (Pixels)</text>
<text fill="#262626" x="1159.50" y="535.80" font-size="17.2" text-anchor="middle" textLength="85.54" lengthAdjust="spacingAndGlyphs" style="" >Env Steps</text>
<text fill="#262626" x="1357.50" y="531.30" font-size="13.0" text-anchor="end" textLength="24.54" lengthAdjust="spacingAndGlyphs" style="" >1e7</text>
<rect x="378.5" y="558.4" width="618.5" height="33.9" rx="3" ry="3" fill="#fff" stroke="#cccccc" stroke-width="1.1"/>
<line x1="384.3" y1="574.4" x2="425.5" y2="574.4" stroke="#56b4e9" stroke-width="3"/>
<circle cx="404.90" cy="574.40" r="5.4" fill="#56b4e9"/>
<text fill="#262626" x="439.80" y="580.60" font-size="20.3" text-anchor="start" textLength="99.54" lengthAdjust="spacingAndGlyphs" style="" >CSF (ours)</text>
<line x1="578.0" y1="574.4" x2="618.7" y2="574.4" stroke="#de8f05" stroke-width="3"/>
<rect x="593.05" y="569.10" width="10.60" height="10.60" fill="#de8f05"/>
<text fill="#262626" x="632.70" y="580.60" font-size="20.3" text-anchor="start" textLength="66.12" lengthAdjust="spacingAndGlyphs" style="" >METRA</text>
<line x1="737.3" y1="574.4" x2="778.7" y2="574.4" stroke="#029e73" stroke-width="3"/>
<path d="M752.50,569.80L763.50,569.80L758.00,579.80Z" fill="#029e73"/>
<text fill="#262626" x="792.70" y="580.60" font-size="20.3" text-anchor="start" textLength="58.18" lengthAdjust="spacingAndGlyphs" style="" >DIAYN</text>
<line x1="889.3" y1="574.4" x2="930.4" y2="574.4" stroke="#0173b2" stroke-width="3"/>
<path d="M907.45,568.80H912.25V572.00H915.45V576.80H912.25V580.00H907.45V576.80H904.25V572.00H907.45Z" fill="#0173b2"/>
<text fill="#262626" x="944.00" y="580.60" font-size="20.3" text-anchor="start" textLength="44.32" lengthAdjust="spacingAndGlyphs" style="" >VISR</text>
</svg></body></html>
